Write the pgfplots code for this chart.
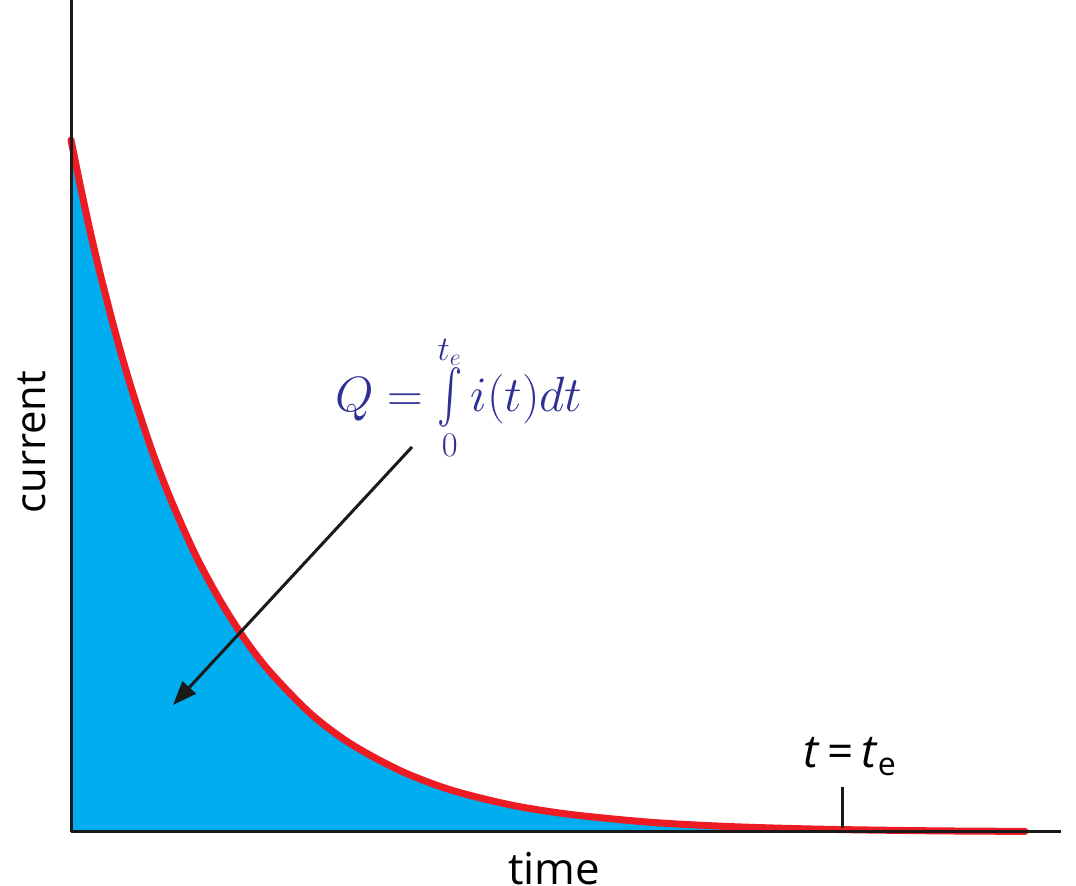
\documentclass[border=0pt]{standalone}
\usepackage{fontspec}
\setmainfont{Open Sans}
\usepackage{pgfplots}
\pgfplotsset{compat=1.18}
\usetikzlibrary{arrows.meta}
\definecolor{curvered}{HTML}{ED1C24}
\definecolor{areacyan}{HTML}{00AEEF}
\definecolor{eqblue}{HTML}{2E3192}
\definecolor{axblack}{HTML}{1A1A1A}
\begin{document}
\begin{tikzpicture}
\begin{axis}[
    scale only axis,
    width=495bp, height=416bp,
    xmin=0, xmax=990, ymin=0, ymax=832,
    axis x line=bottom, axis y line=left,
    axis line style={-, line width=1.5bp, axblack},
    ticks=none,
    clip=false,
    axis on top,
]
% area under the decay curve
\addplot[fill=areacyan, draw=none] coordinates {
    (0,692) (10,643) (20,597) (30,555) (45,497) (60,445) (80,384)
    (100,332) (125,276) (150,230) (175,191) (200,159) (240,118)
    (280,88) (330,61) (380,42) (440,27) (500,17.5) (580,9.7)
    (660,5.4) (750,2.8) (860,1.2) (954,0.6)
} \closedcycle;
% current decay
\addplot[curvered, line width=3.5bp, line cap=round, smooth] coordinates {
    (0,692) (10,643) (20,597) (30,555) (45,497) (60,445) (80,384)
    (100,332) (125,276) (150,230) (175,191) (200,159) (240,118)
    (280,88) (330,61) (380,42) (440,27) (500,17.5) (580,9.7)
    (660,5.4) (750,2.8) (860,1.2) (954,0.6)
};
\node[anchor=base west, inner sep=0pt, eqblue, font=\fontsize{23}{26}\selectfont]
    at (axis cs:264,420) {$Q=\mathop{\vcenter{\hbox{\scalebox{1.9}[2.7]{$\textstyle\intop$}}}}\limits_{0}^{t_e} i(t)dt$};
\draw[axblack, line width=1.5bp, -{Triangle[length=12bp,width=9bp]}]
    (axis cs:341,385) -- (axis cs:102,127);
\node[anchor=base west, inner sep=0pt, font=\fontsize{23}{26}\selectfont]
    at (axis cs:732,64) {\textit{t}\,=\,\textit{t}\textsubscript{e}};
\draw[axblack, line width=1.5bp] (axis cs:772,45) -- (axis cs:772,4);
\node[anchor=base, inner sep=0pt, font=\fontsize{22}{24}\selectfont]
    at (axis cs:483,-53) {time};
\node[anchor=base, rotate=90, inner sep=0pt, font=\fontsize{21}{24}\selectfont]
    at (axis cs:-26,390) {current};
\coordinate (O) at (axis cs:0,0);
\end{axis}
\pgfresetboundingbox
\path (O) ++(-35.5bp,-27bp) rectangle ++(538bp,443bp);
\end{tikzpicture}
\end{document}
